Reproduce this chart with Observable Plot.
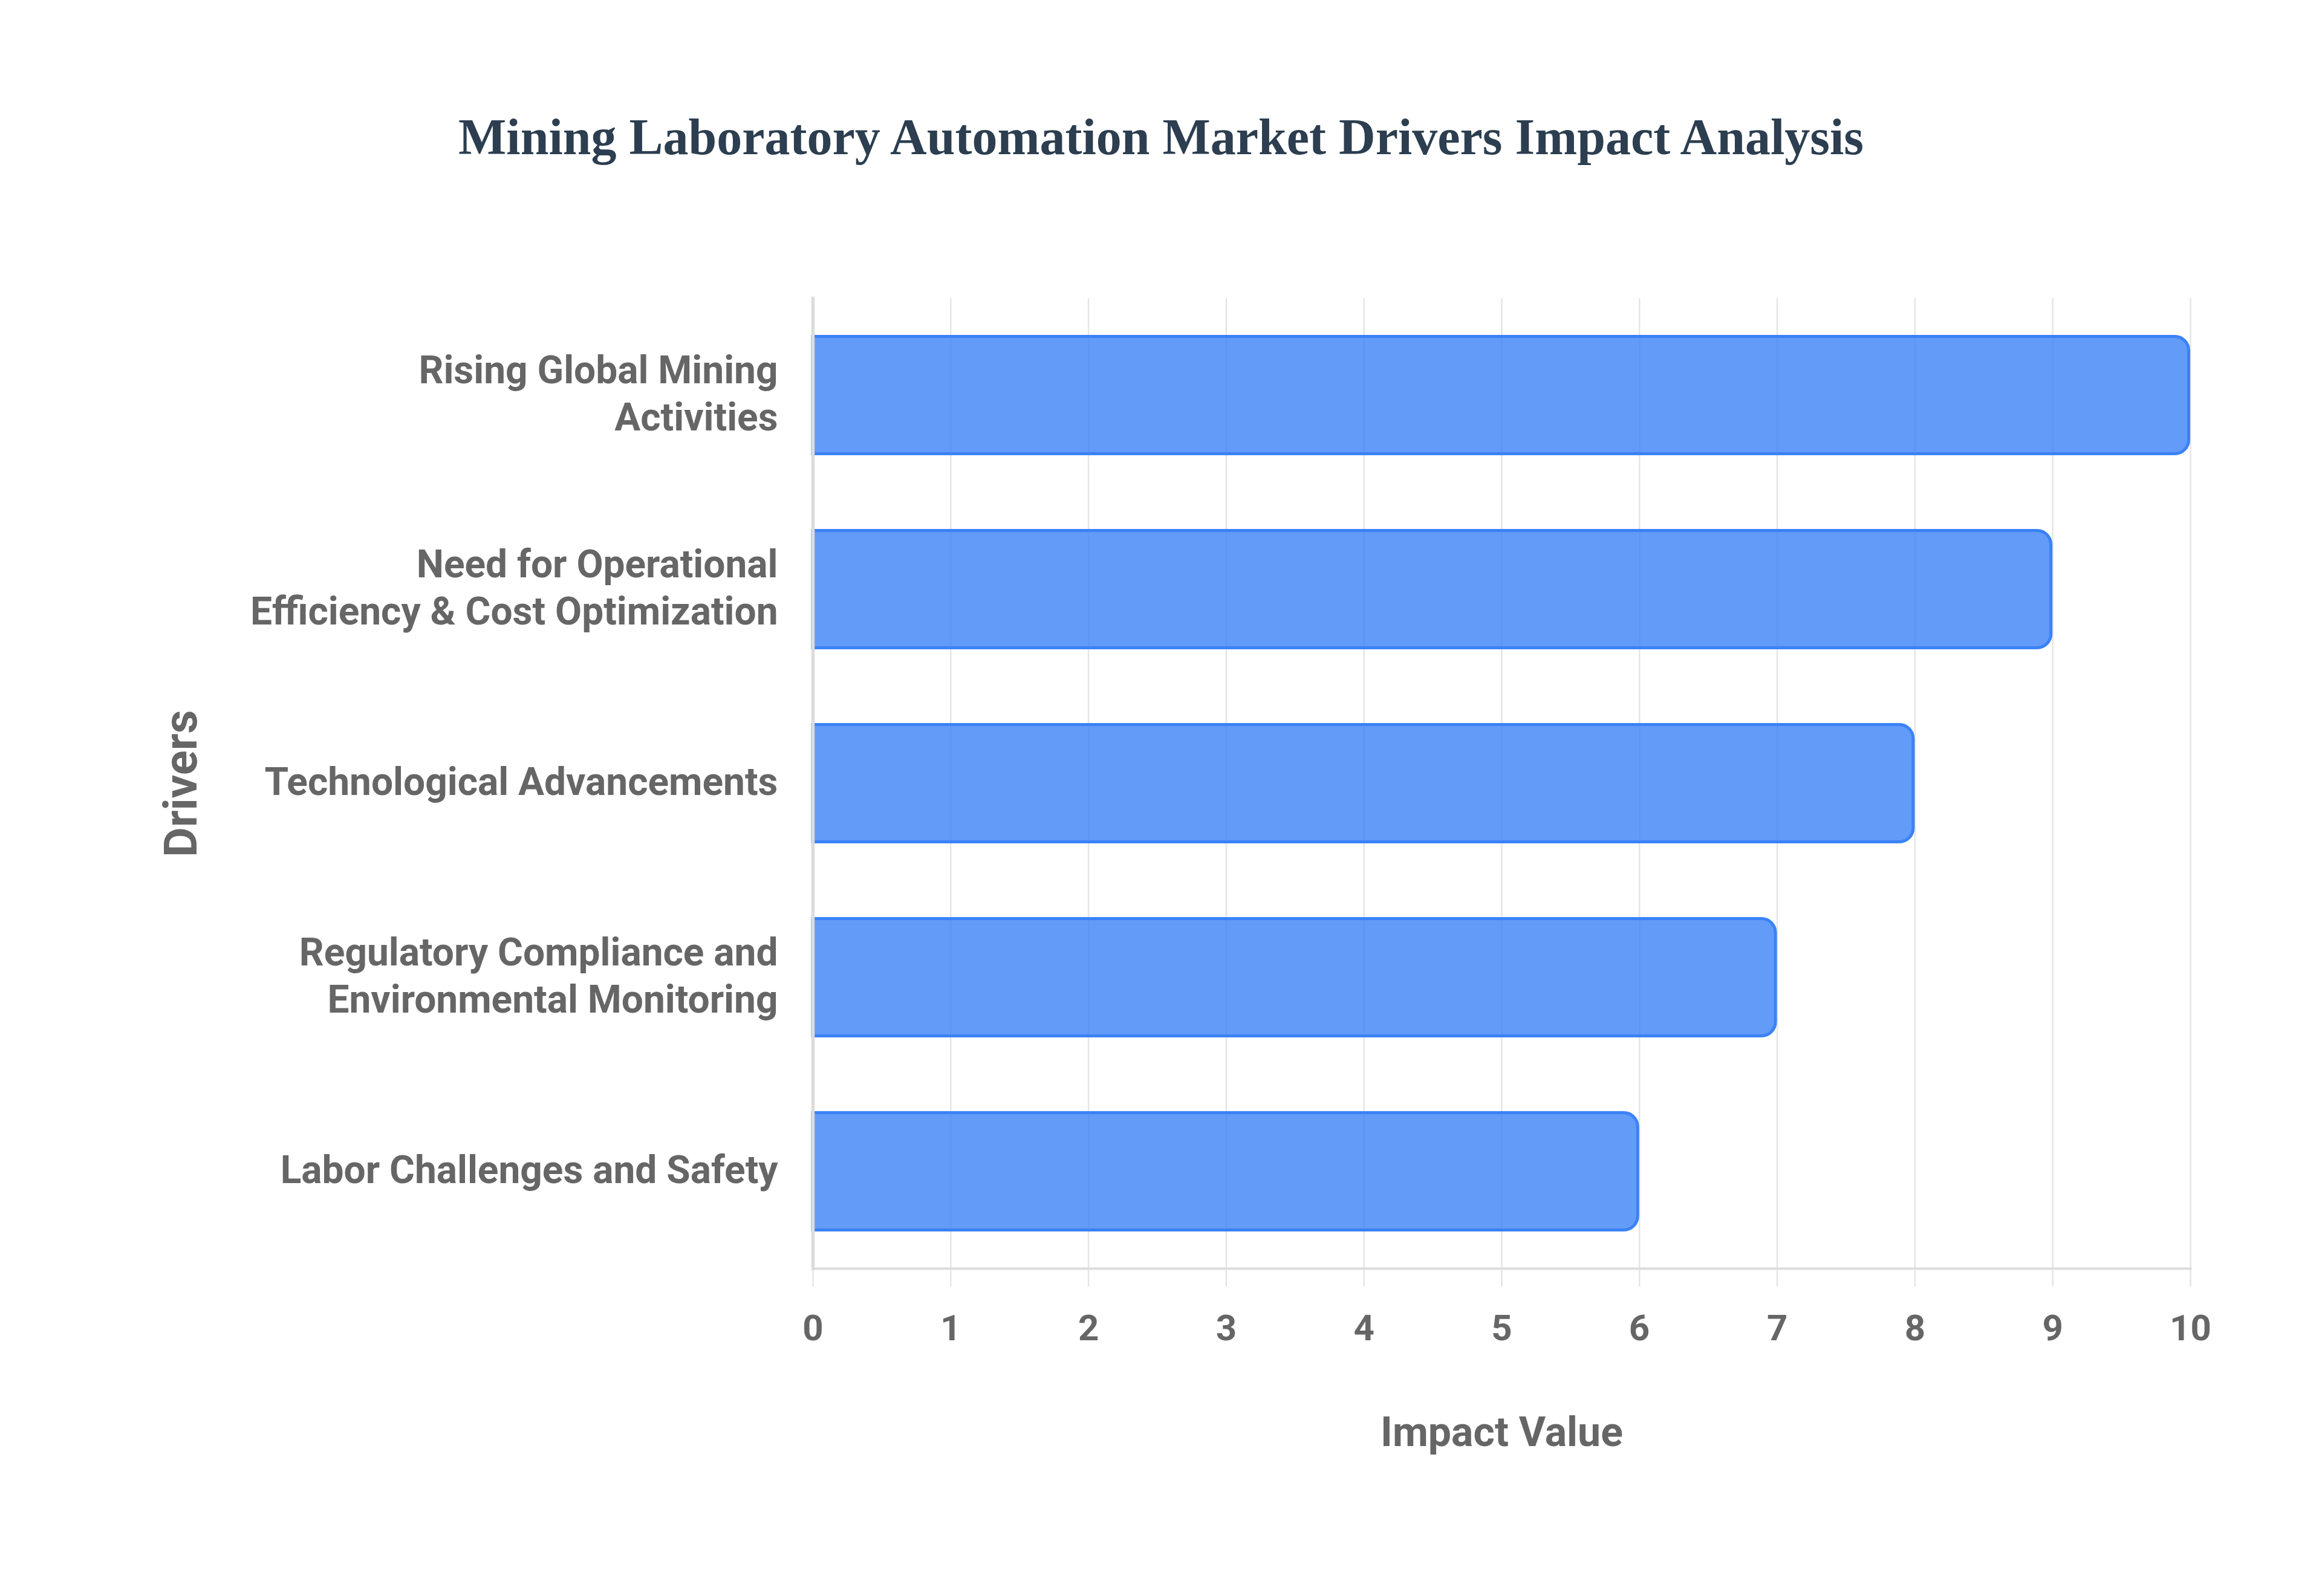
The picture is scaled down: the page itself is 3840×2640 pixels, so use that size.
<!DOCTYPE html>
<html>
<head>
<meta charset="utf-8">
<script src="https://cdn.jsdelivr.net/npm/d3@7"></script>
<script src="https://cdn.jsdelivr.net/npm/@observablehq/plot@0.6"></script>
<style>
  html, body { margin: 0; padding: 0; background: #ffffff; }
  #title {
    width: 3840px; height: 400px; box-sizing: border-box;
    padding-top: 186px; text-align: center;
    font-family: "Liberation Serif", "Times New Roman", serif;
    font-weight: bold; font-size: 84px; line-height: 82px; color: #2c3e50;
  }
  #chart svg { display: block; }
</style>
</head>
<body>
<div id="title">Mining Laboratory Automation Market Drivers Impact Analysis</div>
<div id="chart"></div>
<script>
const drivers = [
  "Rising Global Mining Activities",
  "Need for Operational Efficiency & Cost Optimization",
  "Technological Advancements",
  "Regulatory Compliance and Environmental Monitoring",
  "Labor Challenges and Safety"
];
const driverLabels = [
  "Rising Global Mining\nActivities",
  "Need for Operational\nEfficiency & Cost Optimization",
  "Technological Advancements",
  "Regulatory Compliance and\nEnvironmental Monitoring",
  "Labor Challenges and Safety"
];
const impactValues = [10, 9, 8, 7, 6];
const xTicks = [0, 1, 2, 3, 4, 5, 6, 7, 8, 9, 10];
const xLabel = "Impact Value";
const yLabel = "Drivers";

const data = drivers.map((d, i) => ({driver: d, value: impactValues[i]}));
const labelOf = new Map(drivers.map((d, i) => [d, driverLabels[i]]));

const font = "Roboto, 'Liberation Sans', Arial, sans-serif";

const chart = Plot.plot({
  width: 3840,
  height: 2240,
  marginLeft: 1344,
  marginRight: 218,
  marginTop: 93,
  marginBottom: 542,
  style: {fontFamily: font, background: "#ffffff", overflow: "visible"},
  x: {domain: [0, 10]},
  y: {domain: drivers, paddingInner: 0.38, paddingOuter: 0.19},
  marks: [
    Plot.gridX(xTicks, {stroke: "#e5e5e5", strokeOpacity: 1, strokeWidth: 2.5, insetBottom: -30}),
    Plot.frame({anchor: "bottom", stroke: "#dddddd", strokeWidth: 4}),
    Plot.barX(data, {
      x: "value", y: "driver",
      fill: "#3b82f6", fillOpacity: 0.8,
      stroke: "#3b82f6", strokeWidth: 5,
      insetTop: 2.5, insetBottom: 2.5, insetRight: 2.5,
      rx2: 23
    }),
    Plot.frame({anchor: "left", stroke: "#dcdcdc", strokeWidth: 5.5}),
    Plot.axisX(xTicks, {
      tickSize: 0, tickPadding: 76, fontSize: 60, fontWeight: "bold",
      fill: "#666666", label: null, tickFormat: d => String(d)
    }),
    Plot.axisY({
      tickSize: 0, tickPadding: 58, fontSize: 64, fontWeight: "bold",
      fill: "#666666", label: null, lineHeight: 1.22, dy: -6,
      tickFormat: d => labelOf.get(d)
    }),
    Plot.text([xLabel], {
      frameAnchor: "bottom", dy: 272, text: d => d,
      fontSize: 68, fontWeight: "bold", fill: "#666666", lineAnchor: "middle"
    }),
    Plot.text([yLabel], {
      frameAnchor: "left", dx: -1044, rotate: -90, text: d => d,
      textAnchor: "middle",
      fontSize: 76, fontWeight: "bold", fill: "#666666", lineAnchor: "middle"
    })
  ]
});
document.getElementById("chart").appendChild(chart);
</script>
</body>
</html>
